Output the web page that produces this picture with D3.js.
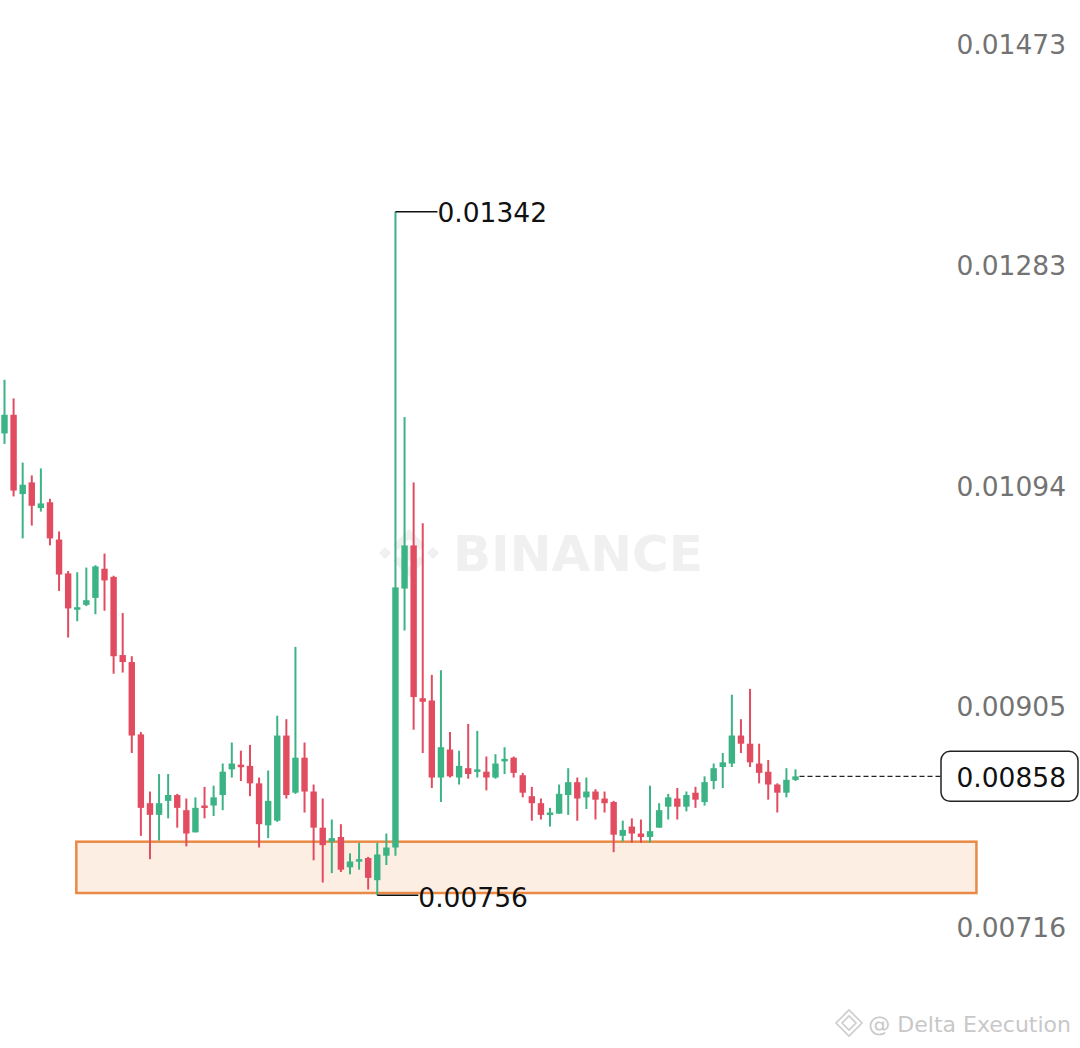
<!DOCTYPE html>
<html>
<head>
<meta charset="utf-8">
<script src="https://cdn.jsdelivr.net/npm/d3@7/dist/d3.min.js"></script>
<style>
  html, body { margin: 0; padding: 0; background: #ffffff; }
  svg { display: block; }
</style>
</head>
<body>
<svg id="chart" width="1080" height="1048"></svg>
<script>
// ---- data ----
const opens  = [0.01152,0.01168,0.01100,0.01110,0.01088,0.01093,0.01061,0.01032,0.01001,0.01005,
                0.01011,0.01036,0.01029,0.00962,0.00956,0.00894,0.00835,0.00825,0.00837,0.00842,
                0.00829,0.00810,0.00833,0.00833,0.00842,0.00864,0.00868,0.00867,0.00852,0.00816,
                0.00820,0.00893,0.00844,0.00874,0.00845,0.00814,0.00802,0.00806,0.00780,0.00785,
                0.00788,0.00769,0.00790,0.00797,0.01019,0.01056,0.00925,0.00923,0.00857,0.00881,
                0.00857,0.00865,0.00862,0.00862,0.00857,0.00871,0.00874,0.00859,0.00841,0.00835,
                0.00826,0.00826,0.00842,0.00853,0.00840,0.00845,0.00839,0.00836,0.00807,0.00815,
                0.00809,0.00806,0.00814,0.00832,0.00839,0.00832,0.00844,0.00836,0.00854,0.00866,
                0.00869,0.00893,0.00886,0.00869,0.00862,0.00851,0.00844,0.00855];
const highs  = [0.01198,0.01182,0.01127,0.01116,0.01122,0.01096,0.01068,0.01034,0.01033,0.01037,
                0.01039,0.01049,0.01030,0.00998,0.00961,0.00896,0.00845,0.00860,0.00860,0.00843,
                0.00839,0.00840,0.00849,0.00850,0.00869,0.00887,0.00880,0.00885,0.00857,0.00863,
                0.00910,0.00907,0.00969,0.00887,0.00851,0.00839,0.00821,0.00817,0.00792,0.00801,
                0.00789,0.00801,0.00809,0.01342,0.01166,0.01110,0.01075,0.00945,0.00949,0.00896,
                0.00880,0.00903,0.00897,0.00875,0.00877,0.00883,0.00875,0.00861,0.00849,0.00839,
                0.00831,0.00851,0.00865,0.00857,0.00857,0.00847,0.00845,0.00837,0.00820,0.00822,
                0.00821,0.00850,0.00835,0.00843,0.00848,0.00845,0.00849,0.00858,0.00869,0.00878,
                0.00928,0.00907,0.00933,0.00886,0.00872,0.00852,0.00865,0.00864];
const lows   = [0.01143,0.01098,0.01062,0.01073,0.01085,0.01056,0.01017,0.00977,0.00991,0.01004,
                0.00997,0.01000,0.00946,0.00947,0.00878,0.00807,0.00787,0.00803,0.00822,0.00814,
                0.00798,0.00810,0.00822,0.00824,0.00829,0.00857,0.00854,0.00841,0.00797,0.00805,
                0.00819,0.00839,0.00843,0.00827,0.00786,0.00767,0.00775,0.00776,0.00774,0.00778,
                0.00761,0.00756,0.00782,0.00790,0.00983,0.00898,0.00878,0.00848,0.00836,0.00857,
                0.00851,0.00856,0.00857,0.00846,0.00856,0.00860,0.00857,0.00840,0.00820,0.00821,
                0.00815,0.00826,0.00825,0.00820,0.00830,0.00821,0.00827,0.00793,0.00802,0.00801,
                0.00801,0.00801,0.00814,0.00821,0.00821,0.00828,0.00831,0.00833,0.00847,0.00848,
                0.00866,0.00878,0.00866,0.00852,0.00838,0.00827,0.00840,0.00854];
const closes = [0.01168,0.01103,0.01108,0.01090,0.01092,0.01062,0.01031,0.01002,0.01003,0.01009,
                0.01038,0.01026,0.00961,0.00956,0.00893,0.00831,0.00825,0.00835,0.00842,0.00831,
                0.00809,0.00831,0.00831,0.00840,0.00862,0.00869,0.00866,0.00852,0.00817,0.00837,
                0.00893,0.00842,0.00874,0.00845,0.00814,0.00799,0.00805,0.00778,0.00785,0.00787,
                0.00771,0.00791,0.00797,0.01020,0.01056,0.00926,0.00922,0.00857,0.00883,0.00858,
                0.00867,0.00860,0.00864,0.00857,0.00869,0.00873,0.00861,0.00844,0.00835,0.00825,
                0.00827,0.00843,0.00853,0.00839,0.00845,0.00838,0.00835,0.00808,0.00812,0.00809,
                0.00806,0.00811,0.00829,0.00840,0.00832,0.00842,0.00838,0.00853,0.00865,0.00870,
                0.00893,0.00886,0.00870,0.00861,0.00851,0.00844,0.00855,0.00858];
const tickValues = [0.01473, 0.01283, 0.01094, 0.00905, 0.00716];
const tickLabels = ["0.01473", "0.01283", "0.01094", "0.00905", "0.00716"];
const zoneIndex = [7.9, 106.9];      // support zone span (candle index units)
const zonePrice = [0.00758, 0.00802]; // support zone price range
const lastPriceLabel = "0.00858";
const watermark = "BINANCE";
const credit = "@ Delta Execution";

// ---- scales ----
const svg = d3.select("#chart");
const x = d3.scaleLinear().domain([0, opens.length - 1]).range([4.5, 795.5]);
const y = d3.scaleLinear().domain([0.00716, 0.01473]).range([942, 59]);

const GREEN = "#3bb385", RED = "#e24c60";
const FONT = "'DejaVu Sans', 'Noto Sans', sans-serif";
const FS = 26.5;

// ---- watermark ----
const wm = svg.append("g").attr("fill", "#f0f0f0");
const diamond = (cx, cy, r) => `M${cx},${cy - r}L${cx + r},${cy}L${cx},${cy + r}L${cx - r},${cy}Z`;
wm.append("path").attr("d", diamond(409, 553, 8));
wm.append("path").attr("d", diamond(385, 553, 6));
wm.append("path").attr("d", diamond(433, 553, 6));
wm.append("path").attr("d", "M393,545L409,529L425,545L420,550L409,539L398,550Z");
wm.append("path").attr("d", "M393,561L409,577L425,561L420,556L409,567L398,556Z");
wm.append("text").attr("x", 453).attr("y", 571)
  .attr("font-family", FONT).attr("font-weight", "bold").attr("font-size", 50)
  .attr("fill", "#f0f0f0").text(watermark);

// ---- support zone ----
svg.append("rect")
  .attr("x", x(zoneIndex[0])).attr("y", y(zonePrice[1]))
  .attr("width", x(zoneIndex[1]) - x(zoneIndex[0]))
  .attr("height", y(zonePrice[0]) - y(zonePrice[1]))
  .attr("fill", "#fdeee3").attr("stroke", "#e88a45").attr("stroke-width", 2.5);

// ---- candles ----
const data = opens.map((o, i) => ({ i, o, h: highs[i], l: lows[i], c: closes[i] }));
const g = svg.append("g");
const cg = g.selectAll("g.candle").data(data).join("g").attr("class", "candle");
cg.append("line")
  .attr("x1", d => x(d.i)).attr("x2", d => x(d.i))
  .attr("y1", d => y(d.h)).attr("y2", d => y(d.l))
  .attr("stroke", d => d.c >= d.o ? GREEN : RED).attr("stroke-width", 2);
cg.append("rect")
  .attr("x", d => x(d.i) - 3.2).attr("width", 6.4)
  .attr("y", d => Math.min(y(d.o), y(d.c)))
  .attr("height", d => Math.max(2.5, Math.abs(y(d.o) - y(d.c))))
  .attr("fill", d => d.c >= d.o ? GREEN : RED);

// ---- high / low annotations ----
const hiIdx = d3.maxIndex(highs), loIdx = d3.minIndex(lows);
svg.append("line").attr("x1", x(hiIdx)).attr("x2", x(hiIdx) + 42)
  .attr("y1", y(highs[hiIdx])).attr("y2", y(highs[hiIdx]))
  .attr("stroke", "#111").attr("stroke-width", 1.5);
svg.append("text").attr("x", x(hiIdx) + 42).attr("y", y(highs[hiIdx]) + 1)
  .attr("dominant-baseline", "central").attr("font-family", FONT).attr("font-size", FS)
  .attr("fill", "#111").text(highs[hiIdx].toFixed(5));
svg.append("line").attr("x1", x(loIdx)).attr("x2", x(loIdx) + 41)
  .attr("y1", y(lows[loIdx])).attr("y2", y(lows[loIdx]))
  .attr("stroke", "#111").attr("stroke-width", 1.5);
svg.append("text").attr("x", x(loIdx) + 41).attr("y", y(lows[loIdx]) + 2)
  .attr("dominant-baseline", "central").attr("font-family", FONT).attr("font-size", FS)
  .attr("fill", "#111").text(lows[loIdx].toFixed(5));

// ---- price axis labels ----
svg.append("g").selectAll("text").data(tickValues).join("text")
  .attr("x", 1066).attr("y", d => y(d) - 15)
  .attr("text-anchor", "end").attr("dominant-baseline", "central")
  .attr("font-family", FONT).attr("font-size", FS).attr("fill", "#737373")
  .text((d, i) => tickLabels[i]);

// ---- last price line & label ----
const lastY = y(closes[closes.length - 1]);
svg.append("line").attr("x1", x(closes.length - 1) + 4).attr("x2", 941)
  .attr("y1", lastY).attr("y2", lastY)
  .attr("stroke", "#222").attr("stroke-width", 1.2).attr("stroke-dasharray", "5,3");
svg.append("rect").attr("x", 941).attr("y", lastY - 25).attr("width", 137).attr("height", 50)
  .attr("rx", 9).attr("fill", "#fff").attr("stroke", "#222").attr("stroke-width", 1.5);
svg.append("text").attr("x", 1066).attr("y", lastY + 1)
  .attr("text-anchor", "end").attr("dominant-baseline", "central")
  .attr("font-family", FONT).attr("font-size", FS).attr("fill", "#111").text(lastPriceLabel);

// ---- credit watermark ----
const cr = svg.append("g").attr("fill", "none").attr("stroke", "#cccccc").attr("stroke-width", 1.6);
cr.append("path").attr("d", "M836,1023L849,1010L862,1023L849,1036Z");
cr.append("path").attr("d", "M842,1023L849,1016L856,1023L849,1030Z");
svg.append("text").attr("x", 1071).attr("y", 1024)
  .attr("text-anchor", "end").attr("dominant-baseline", "central")
  .attr("font-family", FONT).attr("font-size", 22).attr("fill", "#c8c8c8").text(credit);
</script>
</body>
</html>
